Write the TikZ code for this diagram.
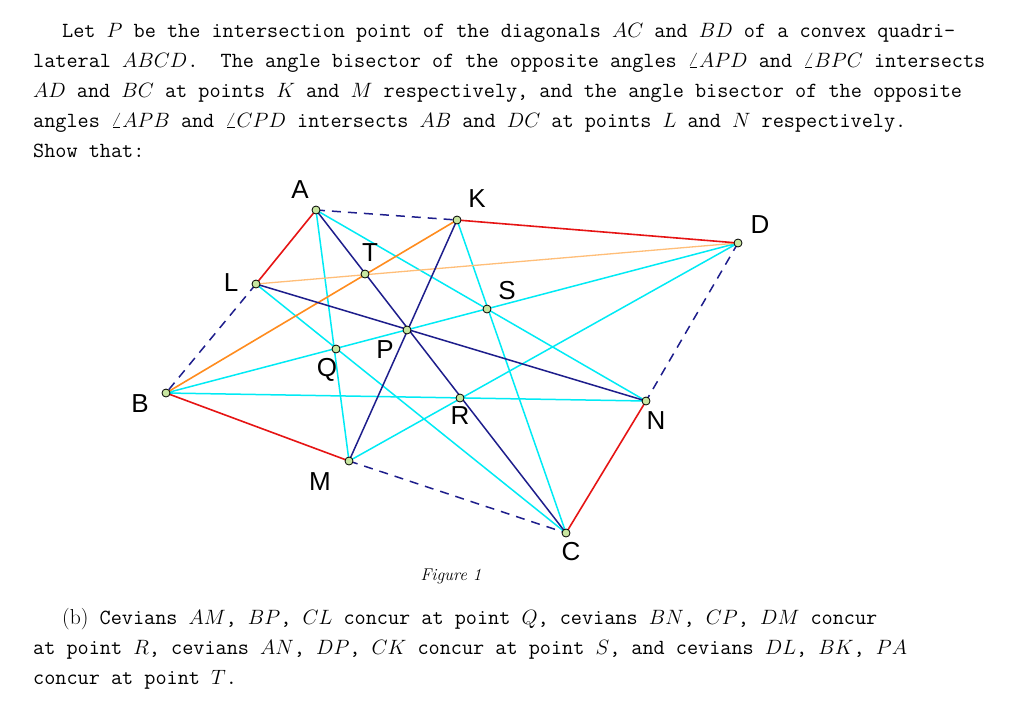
\documentclass[tikz,border=0pt]{standalone}
\usepackage{fontspec}
\newfontfamily\lab{Liberation Sans}
\begin{document}
\begin{tikzpicture}[x=1pt,y=-1pt,
  txt/.style={anchor=base west,inner sep=0pt,font=\fontsize{21.6}{30}\selectfont\ttfamily},
  pt/.style={circle,draw=black,fill={rgb,255:red,200;green,230;blue,160},inner sep=0pt,minimum size=8pt,line width=0.8pt},
  lb/.style={font=\lab\fontsize{26}{26}\selectfont,inner sep=0pt},
  nv/.style={draw={rgb,255:red,30;green,30;blue,140},line width=1.5pt},
  cy/.style={draw={rgb,255:red,0;green,235;blue,245},line width=1.5pt},
  rd/.style={draw={rgb,255:red,230;green,20;blue,20},line width=1.6pt},
  dsh/.style={draw={rgb,255:red,30;green,30;blue,140},line width=1.5pt,dash pattern=on 9pt off 7pt}]
\useasboundingbox (0,0) rectangle (1024,707);
\fill[white] (0,0) rectangle (1024,707);
\node[txt] (l1) at (62,37) {Let $P$ be the intersection point of the diagonals $AC$ and $BD$ of a convex quadri-};
\node[txt] (l2) at (33,67) {lateral $ABCD$.\ \ The angle bisector of the opposite angles $\angle APD$ and $\angle BPC$ intersects};
\node[txt] (l3) at (33,97) {$AD$ and $BC$ at points $K$ and $M$ respectively, and the angle bisector of the opposite};
\node[txt] (l4) at (33,127) {angles $\angle APB$ and $\angle CPD$ intersects $AB$ and $DC$ at points $L$ and $N$ respectively.};
\node[txt] (l5) at (33,157) {Show that:};
\node[anchor=base,font=\rmfamily\itshape\fontsize{17}{19}\selectfont] (fig) at (451,580) {Figure 1};
\node[txt] (b1) at (62,624) {\rmfamily(b)\ttfamily{} Cevians $AM$, $BP$, $CL$ concur at point $Q$, cevians $BN$, $CP$, $DM$ concur};
\node[txt] (b2) at (33,654) {at point $R$, cevians $AN$, $DP$, $CK$ concur at point $S$, and cevians $DL$, $BK$, $PA$};
\node[txt] (b3) at (33,684) {concur at point $T$.};
\coordinate (A) at (316,210); \coordinate (K) at (457,220); \coordinate (D) at (738,243);
\coordinate (L) at (256,284); \coordinate (T) at (365,274); \coordinate (S) at (487,309);
\coordinate (P) at (407,330); \coordinate (Q) at (336,349); \coordinate (B) at (166,393);
\coordinate (R) at (460,398); \coordinate (N) at (646,401); \coordinate (M) at (349,461);
\coordinate (C) at (566,533);
\draw[cy] (A)--(M) (A)--(N) (B)--(N) (B)--(D) (C)--(L) (C)--(K) (D)--(M);
\draw[draw={rgb,255:red,255;green,190;blue,120},line width=1.3pt] (L)--(D);
\draw[draw={rgb,255:red,255;green,140;blue,30},line width=1.6pt] (B)--(K);
\draw[nv] (L)--(N) (K)--(M) (A)--(C);
\draw[dsh] (A)--(K) (L)--(B) (M)--(C) (D)--(N);
\draw[rd] (A)--(L) (K)--(D) (B)--(M) (N)--(C);
\foreach \p in {A,K,D,L,T,S,P,Q,B,R,N,M,C} \node[pt] (n\p) at (\p) {};
\node[lb] at (300,190) {A}; \node[lb] at (477,199) {K}; \node[lb] at (760,225) {D};
\node[lb] at (231,283) {L}; \node[lb] at (370,253) {T}; \node[lb] at (507,291) {S};
\node[lb] at (385,350) {P}; \node[lb] at (327,370) {Q}; \node[lb] at (140,404) {B};
\node[lb] at (460,416) {R}; \node[lb] at (656,421) {N}; \node[lb] at (320,482) {M};
\node[lb] at (571,552) {C};
\end{tikzpicture}
\end{document}
